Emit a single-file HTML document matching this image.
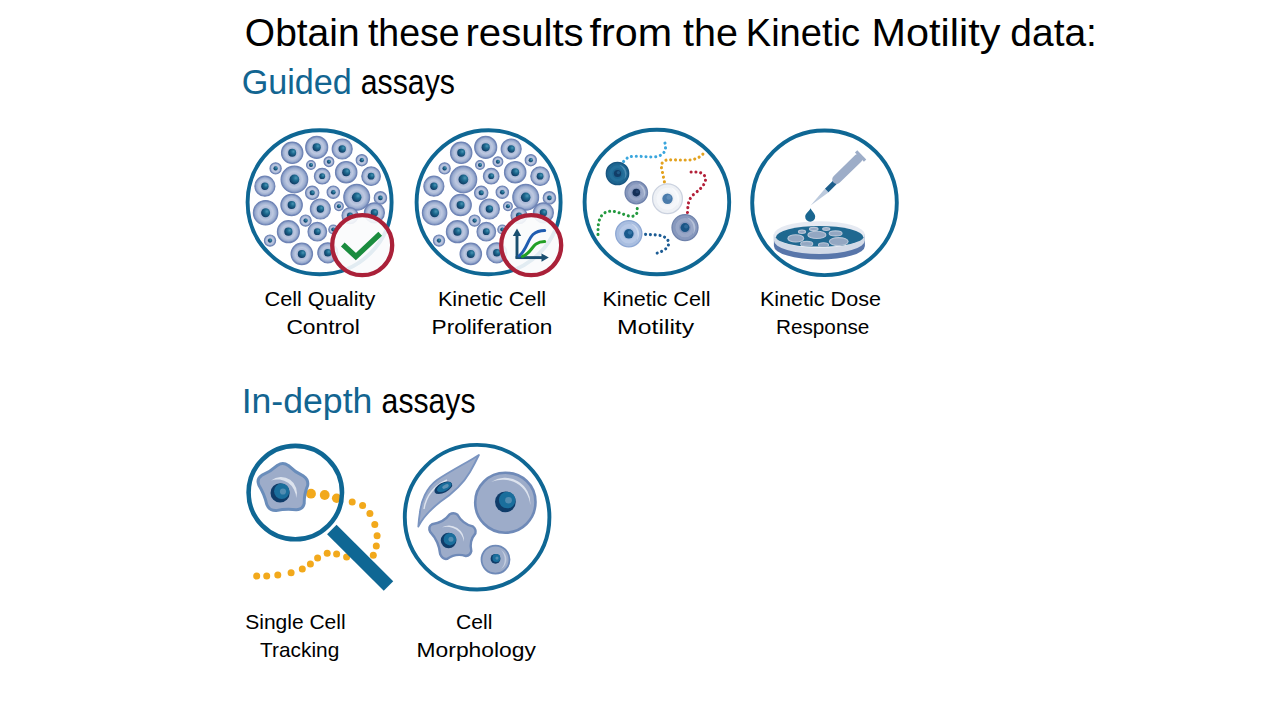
<!DOCTYPE html>
<html><head><meta charset="utf-8"><style>
html,body{margin:0;padding:0;background:#fff;}
body{width:1280px;height:720px;overflow:hidden;}
svg{display:block;font-family:"Liberation Sans", sans-serif;}
</style></head><body>
<svg width="1280" height="720" viewBox="0 0 1280 720">
<defs>
<radialGradient id="cg" cx="0.5" cy="0.5" r="0.5">
 <stop offset="0" stop-color="#9cadcf"/>
 <stop offset="0.35" stop-color="#a8b6d5"/>
 <stop offset="0.6" stop-color="#bdc8e0"/>
 <stop offset="0.8" stop-color="#a2b2d3"/>
 <stop offset="0.91" stop-color="#899dc6"/>
 <stop offset="1" stop-color="#6f85b6"/>
</radialGradient>
<radialGradient id="ng" cx="0.65" cy="0.35" r="0.7">
 <stop offset="0" stop-color="#4b95b5"/>
 <stop offset="0.4" stop-color="#1e6a8f"/>
 <stop offset="1" stop-color="#0f3a62"/>
</radialGradient>
<clipPath id="c1"><circle cx="319.6" cy="201.7" r="71"/></clipPath>
</defs><g transform="translate(0,0.6)"><g clip-path="url(#c1)"><circle cx="292.2" cy="152.2" r="10.7" fill="url(#cg)" stroke="#6f84b5" stroke-width="1.2"/><circle cx="292.2" cy="152.2" r="4.0" fill="url(#ng)"/><circle cx="316.7" cy="146.7" r="11.0" fill="url(#cg)" stroke="#6f84b5" stroke-width="1.2"/><circle cx="316.7" cy="146.7" r="4.1" fill="url(#ng)"/><circle cx="342.2" cy="148.4" r="10.0" fill="url(#cg)" stroke="#6f84b5" stroke-width="1.2"/><circle cx="342.2" cy="148.4" r="3.7" fill="url(#ng)"/><circle cx="275.6" cy="167.8" r="5.6" fill="url(#cg)" stroke="#6f84b5" stroke-width="1.2"/><circle cx="275.6" cy="167.8" r="2.1" fill="url(#ng)"/><circle cx="311.0" cy="164.4" r="4.4" fill="url(#cg)" stroke="#6f84b5" stroke-width="1.2"/><circle cx="311.0" cy="164.4" r="2.0" fill="url(#ng)"/><circle cx="328.9" cy="161.1" r="4.9" fill="url(#cg)" stroke="#6f84b5" stroke-width="1.2"/><circle cx="328.9" cy="161.1" r="2.0" fill="url(#ng)"/><circle cx="361.8" cy="159.6" r="5.6" fill="url(#cg)" stroke="#6f84b5" stroke-width="1.2"/><circle cx="361.8" cy="159.6" r="2.1" fill="url(#ng)"/><circle cx="294.4" cy="178.9" r="13.3" fill="url(#cg)" stroke="#6f84b5" stroke-width="1.2"/><circle cx="294.4" cy="178.9" r="4.9" fill="url(#ng)"/><circle cx="322.2" cy="175.6" r="7.8" fill="url(#cg)" stroke="#6f84b5" stroke-width="1.2"/><circle cx="322.2" cy="175.6" r="2.9" fill="url(#ng)"/><circle cx="346.2" cy="171.6" r="10.7" fill="url(#cg)" stroke="#6f84b5" stroke-width="1.2"/><circle cx="346.2" cy="171.6" r="4.0" fill="url(#ng)"/><circle cx="371.1" cy="175.6" r="9.3" fill="url(#cg)" stroke="#6f84b5" stroke-width="1.2"/><circle cx="371.1" cy="175.6" r="3.4" fill="url(#ng)"/><circle cx="264.9" cy="185.6" r="10.0" fill="url(#cg)" stroke="#6f84b5" stroke-width="1.2"/><circle cx="264.9" cy="185.6" r="3.7" fill="url(#ng)"/><circle cx="312.2" cy="192.2" r="6.7" fill="url(#cg)" stroke="#6f84b5" stroke-width="1.2"/><circle cx="312.2" cy="192.2" r="2.5" fill="url(#ng)"/><circle cx="333.3" cy="191.6" r="6.2" fill="url(#cg)" stroke="#6f84b5" stroke-width="1.2"/><circle cx="333.3" cy="191.6" r="2.3" fill="url(#ng)"/><circle cx="356.7" cy="196.7" r="12.9" fill="url(#cg)" stroke="#6f84b5" stroke-width="1.2"/><circle cx="356.7" cy="196.7" r="4.8" fill="url(#ng)"/><circle cx="380.4" cy="197.3" r="6.2" fill="url(#cg)" stroke="#6f84b5" stroke-width="1.2"/><circle cx="380.4" cy="197.3" r="2.3" fill="url(#ng)"/><circle cx="265.6" cy="212.2" r="12.2" fill="url(#cg)" stroke="#6f84b5" stroke-width="1.2"/><circle cx="265.6" cy="212.2" r="4.5" fill="url(#ng)"/><circle cx="291.6" cy="204.4" r="10.7" fill="url(#cg)" stroke="#6f84b5" stroke-width="1.2"/><circle cx="291.6" cy="204.4" r="4.0" fill="url(#ng)"/><circle cx="320.4" cy="208.4" r="10.0" fill="url(#cg)" stroke="#6f84b5" stroke-width="1.2"/><circle cx="320.4" cy="208.4" r="3.7" fill="url(#ng)"/><circle cx="338.9" cy="205.6" r="4.4" fill="url(#cg)" stroke="#6f84b5" stroke-width="1.2"/><circle cx="338.9" cy="205.6" r="2.0" fill="url(#ng)"/><circle cx="374.4" cy="212.2" r="10.0" fill="url(#cg)" stroke="#6f84b5" stroke-width="1.2"/><circle cx="374.4" cy="212.2" r="3.7" fill="url(#ng)"/><circle cx="305.6" cy="220.0" r="5.6" fill="url(#cg)" stroke="#6f84b5" stroke-width="1.2"/><circle cx="305.6" cy="220.0" r="2.1" fill="url(#ng)"/><circle cx="288.4" cy="231.1" r="11.0" fill="url(#cg)" stroke="#6f84b5" stroke-width="1.2"/><circle cx="288.4" cy="231.1" r="4.1" fill="url(#ng)"/><circle cx="317.3" cy="231.1" r="9.3" fill="url(#cg)" stroke="#6f84b5" stroke-width="1.2"/><circle cx="317.3" cy="231.1" r="3.4" fill="url(#ng)"/><circle cx="270.0" cy="240.0" r="5.6" fill="url(#cg)" stroke="#6f84b5" stroke-width="1.2"/><circle cx="270.0" cy="240.0" r="2.1" fill="url(#ng)"/><circle cx="301.8" cy="253.3" r="10.7" fill="url(#cg)" stroke="#6f84b5" stroke-width="1.2"/><circle cx="301.8" cy="253.3" r="4.0" fill="url(#ng)"/><circle cx="327.8" cy="252.2" r="10.0" fill="url(#cg)" stroke="#6f84b5" stroke-width="1.2"/><circle cx="327.8" cy="252.2" r="3.7" fill="url(#ng)"/><circle cx="333.3" cy="228.9" r="4.5" fill="url(#cg)" stroke="#6f84b5" stroke-width="1.2"/><circle cx="333.3" cy="228.9" r="2.0" fill="url(#ng)"/><circle cx="350.0" cy="215.0" r="8.0" fill="url(#cg)" stroke="#6f84b5" stroke-width="1.2"/><circle cx="350.0" cy="215.0" r="3.0" fill="url(#ng)"/></g><circle cx="319.6" cy="201.7" r="72" fill="none" stroke="#0f6794" stroke-width="3.9"/><circle cx="362.2" cy="244.6" r="30" fill="#fafbfc" fill-opacity="0.9" stroke="#aa2139" stroke-width="4.3"/></g><g transform="translate(169,0.6)"><g clip-path="url(#c1)"><circle cx="292.2" cy="152.2" r="10.7" fill="url(#cg)" stroke="#6f84b5" stroke-width="1.2"/><circle cx="292.2" cy="152.2" r="4.0" fill="url(#ng)"/><circle cx="316.7" cy="146.7" r="11.0" fill="url(#cg)" stroke="#6f84b5" stroke-width="1.2"/><circle cx="316.7" cy="146.7" r="4.1" fill="url(#ng)"/><circle cx="342.2" cy="148.4" r="10.0" fill="url(#cg)" stroke="#6f84b5" stroke-width="1.2"/><circle cx="342.2" cy="148.4" r="3.7" fill="url(#ng)"/><circle cx="275.6" cy="167.8" r="5.6" fill="url(#cg)" stroke="#6f84b5" stroke-width="1.2"/><circle cx="275.6" cy="167.8" r="2.1" fill="url(#ng)"/><circle cx="311.0" cy="164.4" r="4.4" fill="url(#cg)" stroke="#6f84b5" stroke-width="1.2"/><circle cx="311.0" cy="164.4" r="2.0" fill="url(#ng)"/><circle cx="328.9" cy="161.1" r="4.9" fill="url(#cg)" stroke="#6f84b5" stroke-width="1.2"/><circle cx="328.9" cy="161.1" r="2.0" fill="url(#ng)"/><circle cx="361.8" cy="159.6" r="5.6" fill="url(#cg)" stroke="#6f84b5" stroke-width="1.2"/><circle cx="361.8" cy="159.6" r="2.1" fill="url(#ng)"/><circle cx="294.4" cy="178.9" r="13.3" fill="url(#cg)" stroke="#6f84b5" stroke-width="1.2"/><circle cx="294.4" cy="178.9" r="4.9" fill="url(#ng)"/><circle cx="322.2" cy="175.6" r="7.8" fill="url(#cg)" stroke="#6f84b5" stroke-width="1.2"/><circle cx="322.2" cy="175.6" r="2.9" fill="url(#ng)"/><circle cx="346.2" cy="171.6" r="10.7" fill="url(#cg)" stroke="#6f84b5" stroke-width="1.2"/><circle cx="346.2" cy="171.6" r="4.0" fill="url(#ng)"/><circle cx="371.1" cy="175.6" r="9.3" fill="url(#cg)" stroke="#6f84b5" stroke-width="1.2"/><circle cx="371.1" cy="175.6" r="3.4" fill="url(#ng)"/><circle cx="264.9" cy="185.6" r="10.0" fill="url(#cg)" stroke="#6f84b5" stroke-width="1.2"/><circle cx="264.9" cy="185.6" r="3.7" fill="url(#ng)"/><circle cx="312.2" cy="192.2" r="6.7" fill="url(#cg)" stroke="#6f84b5" stroke-width="1.2"/><circle cx="312.2" cy="192.2" r="2.5" fill="url(#ng)"/><circle cx="333.3" cy="191.6" r="6.2" fill="url(#cg)" stroke="#6f84b5" stroke-width="1.2"/><circle cx="333.3" cy="191.6" r="2.3" fill="url(#ng)"/><circle cx="356.7" cy="196.7" r="12.9" fill="url(#cg)" stroke="#6f84b5" stroke-width="1.2"/><circle cx="356.7" cy="196.7" r="4.8" fill="url(#ng)"/><circle cx="380.4" cy="197.3" r="6.2" fill="url(#cg)" stroke="#6f84b5" stroke-width="1.2"/><circle cx="380.4" cy="197.3" r="2.3" fill="url(#ng)"/><circle cx="265.6" cy="212.2" r="12.2" fill="url(#cg)" stroke="#6f84b5" stroke-width="1.2"/><circle cx="265.6" cy="212.2" r="4.5" fill="url(#ng)"/><circle cx="291.6" cy="204.4" r="10.7" fill="url(#cg)" stroke="#6f84b5" stroke-width="1.2"/><circle cx="291.6" cy="204.4" r="4.0" fill="url(#ng)"/><circle cx="320.4" cy="208.4" r="10.0" fill="url(#cg)" stroke="#6f84b5" stroke-width="1.2"/><circle cx="320.4" cy="208.4" r="3.7" fill="url(#ng)"/><circle cx="338.9" cy="205.6" r="4.4" fill="url(#cg)" stroke="#6f84b5" stroke-width="1.2"/><circle cx="338.9" cy="205.6" r="2.0" fill="url(#ng)"/><circle cx="374.4" cy="212.2" r="10.0" fill="url(#cg)" stroke="#6f84b5" stroke-width="1.2"/><circle cx="374.4" cy="212.2" r="3.7" fill="url(#ng)"/><circle cx="305.6" cy="220.0" r="5.6" fill="url(#cg)" stroke="#6f84b5" stroke-width="1.2"/><circle cx="305.6" cy="220.0" r="2.1" fill="url(#ng)"/><circle cx="288.4" cy="231.1" r="11.0" fill="url(#cg)" stroke="#6f84b5" stroke-width="1.2"/><circle cx="288.4" cy="231.1" r="4.1" fill="url(#ng)"/><circle cx="317.3" cy="231.1" r="9.3" fill="url(#cg)" stroke="#6f84b5" stroke-width="1.2"/><circle cx="317.3" cy="231.1" r="3.4" fill="url(#ng)"/><circle cx="270.0" cy="240.0" r="5.6" fill="url(#cg)" stroke="#6f84b5" stroke-width="1.2"/><circle cx="270.0" cy="240.0" r="2.1" fill="url(#ng)"/><circle cx="301.8" cy="253.3" r="10.7" fill="url(#cg)" stroke="#6f84b5" stroke-width="1.2"/><circle cx="301.8" cy="253.3" r="4.0" fill="url(#ng)"/><circle cx="327.8" cy="252.2" r="10.0" fill="url(#cg)" stroke="#6f84b5" stroke-width="1.2"/><circle cx="327.8" cy="252.2" r="3.7" fill="url(#ng)"/><circle cx="333.3" cy="228.9" r="4.5" fill="url(#cg)" stroke="#6f84b5" stroke-width="1.2"/><circle cx="333.3" cy="228.9" r="2.0" fill="url(#ng)"/><circle cx="350.0" cy="215.0" r="8.0" fill="url(#cg)" stroke="#6f84b5" stroke-width="1.2"/><circle cx="350.0" cy="215.0" r="3.0" fill="url(#ng)"/></g><circle cx="319.6" cy="201.7" r="72" fill="none" stroke="#0f6794" stroke-width="3.9"/><circle cx="362.2" cy="244.6" r="30" fill="#fafbfc" fill-opacity="0.9" stroke="#aa2139" stroke-width="4.3"/></g><path d="M342.8,244.5 L355.8,256.6 L380.2,233.8" fill="none" stroke="#1a8c3e" stroke-width="5.4" stroke-linejoin="miter"/><g>
<path d="M517,258.5 L517,234" stroke="#1a4f70" stroke-width="2.9" fill="none"/>
<path d="M512.8,236 L517,228.5 L521.2,236 Z" fill="#1a4f70"/>
<path d="M515.6,257.6 L542,257.6" stroke="#1a4f70" stroke-width="2.9" fill="none"/>
<path d="M541.5,253.4 L548.8,257.6 L541.5,261.8 Z" fill="#1a4f70"/>
<path d="M519,256 C526,251 528,239 533,234.5 C537,231 540,230.5 544.7,230.5" stroke="#1f5cb0" stroke-width="3" fill="none" stroke-linecap="round"/>
<path d="M522.5,256.5 C530,254 532,246.5 536,244 C539,242 541,241.6 544.7,241.6" stroke="#22a025" stroke-width="3" fill="none" stroke-linecap="round"/>
</g><circle cx="656.9" cy="202" r="72.3" fill="none" stroke="#0f6794" stroke-width="3.9"/><path d="M623.6,161.5 C627,157 631,156 637,156.2 L652,157 C660,157 665,154 665.5,148 C666,145 665,143 664,141" fill="none" stroke="#3aa6dd" stroke-width="3.1" stroke-linecap="round" stroke-dasharray="0.01 4.8"/><path d="M664.4,181.9 L662,170 C660.5,165 661.5,162 666,160.2 C670,159.5 675,160 680,160 L689.5,160 C696,159.5 701,157 704.7,152" fill="none" stroke="#e3a21f" stroke-width="3.1" stroke-linecap="round" stroke-dasharray="0.01 4.8"/><path d="M687.5,212.5 C688,205 688,200 693,195 C699,190 704.5,186 705.5,180 C706,175 702,172.5 697,172 L690,172" fill="none" stroke="#b3213a" stroke-width="3.1" stroke-linecap="round" stroke-dasharray="0.01 4.8"/><path d="M598,234.4 C598,226 598,220 602.5,214.4 C606,211 611,210.6 617,212 L627,215.5 C632,217 635,216.5 637,213 L637.5,204.5" fill="none" stroke="#23993f" stroke-width="3.1" stroke-linecap="round" stroke-dasharray="0.01 4.8"/><path d="M645.6,234.4 L658,235 C664,236 668,238 668.8,243 C668.5,248 664,251 656,253.5 L653.6,254.4" fill="none" stroke="#1c5c94" stroke-width="3.1" stroke-linecap="round" stroke-dasharray="0.01 4.8"/><circle cx="617.5" cy="173.5" r="11.2" fill="#1d6590" stroke="#185680" stroke-width="1.3"/><circle cx="617.5" cy="173.5" r="6.72" fill="none" stroke="#2a78a3" stroke-width="3.14" opacity="0.55"/><path d="M619.1,164.7 A8.959999999999999,8.959999999999999 0 0 1 624.4,179.3 A11.76,11.76 0 0 0 619.1,164.7 Z" fill="#6fa6c8" opacity="0.6"/><circle cx="617.5" cy="173.5" r="3.6" fill="#123e68"/><circle cx="618.40" cy="172.60" r="1.62" fill="#2a6a95" opacity="0.7"/><circle cx="636.3" cy="192.6" r="11.2" fill="#8798bd" stroke="#6f82ab" stroke-width="1.3"/><circle cx="636.3" cy="192.6" r="6.72" fill="none" stroke="#a7b4cf" stroke-width="3.14" opacity="0.55"/><path d="M637.9,183.8 A8.959999999999999,8.959999999999999 0 0 1 643.2,198.4 A11.76,11.76 0 0 0 637.9,183.8 Z" fill="#d0d8e8" opacity="0.6"/><circle cx="636.3" cy="192.6" r="3.8" fill="#142f56"/><circle cx="637.25" cy="191.65" r="1.71" fill="#2b4a78" opacity="0.7"/><circle cx="667.5" cy="198.7" r="14.9" fill="#edf0f5" stroke="#cbd2df" stroke-width="1.3"/><circle cx="667.5" cy="198.7" r="8.94" fill="none" stroke="#fafbfd" stroke-width="4.17" opacity="0.55"/><path d="M669.6,187.0 A11.920000000000002,11.920000000000002 0 0 1 676.6,206.4 A15.645000000000001,15.645000000000001 0 0 0 669.6,187.0 Z" fill="#ffffff" opacity="0.6"/><circle cx="667.5" cy="198.7" r="5.2" fill="#4a7bab"/><circle cx="668.80" cy="197.40" r="2.34" fill="#6b97c0" opacity="0.7"/><circle cx="685.0" cy="227.6" r="13.0" fill="#8798bd" stroke="#6f82ab" stroke-width="1.3"/><circle cx="685.0" cy="227.6" r="7.80" fill="none" stroke="#a7b4cf" stroke-width="3.64" opacity="0.55"/><path d="M686.8,217.4 A10.4,10.4 0 0 1 693.0,234.3 A13.65,13.65 0 0 0 686.8,217.4 Z" fill="#d0d8e8" opacity="0.6"/><circle cx="685.0" cy="227.6" r="4.5" fill="#1a5585"/><circle cx="686.12" cy="226.47" r="2.02" fill="#3b75a3" opacity="0.7"/><circle cx="628.8" cy="233.8" r="13.1" fill="#a9bee0" stroke="#8da7d3" stroke-width="1.3"/><circle cx="628.8" cy="233.8" r="7.86" fill="none" stroke="#c2d2ec" stroke-width="3.67" opacity="0.55"/><path d="M630.6,223.5 A10.48,10.48 0 0 1 636.8,240.5 A13.755,13.755 0 0 0 630.6,223.5 Z" fill="#e0e8f5" opacity="0.6"/><circle cx="628.8" cy="233.8" r="4.8" fill="#1a5a8c"/><circle cx="630.00" cy="232.60" r="2.16" fill="#3f7fb0" opacity="0.7"/><circle cx="824.5" cy="202.8" r="72.3" fill="none" stroke="#0f6794" stroke-width="3.9"/><g>
<path d="M773.9,234.6 L773.9,246 A45.5,13.5 0 0 0 864.9,246 L864.9,234.6 Z" fill="#5876aa"/>
<path d="M773.9,234.6 L773.9,240.5 A45.5,13.5 0 0 0 864.9,240.5 L864.9,234.6 Z" fill="#d2dae7"/>
<ellipse cx="819.4" cy="234.6" rx="45.5" ry="13.4" fill="#e6eaf2"/>
<clipPath id="liq"><path d="M775.9,237.3 A43.75,11.4 0 0 1 863.4,237.3 A43.75,9.3 0 0 1 775.9,237.3 Z"/></clipPath>
<path d="M775.9,237.3 A43.75,11.4 0 0 1 863.4,237.3 A43.75,9.3 0 0 1 775.9,237.3 Z" fill="#1f6890"/>
<g clip-path="url(#liq)" fill="#93a7c2" stroke="#b9c6d8" stroke-width="1.1">
<ellipse cx="795.8" cy="238.4" rx="7.91" ry="3.59"/>
<ellipse cx="816.9" cy="234.9" rx="9.02" ry="3.59"/>
<ellipse cx="835.6" cy="233.4" rx="6.44" ry="2.48"/>
<ellipse cx="838.75" cy="241.6" rx="9.38" ry="3.96"/>
<ellipse cx="806.7" cy="243.9" rx="6.07" ry="2.48"/>
<ellipse cx="823.5" cy="245" rx="5.06" ry="2.30"/>
<ellipse cx="802" cy="231.8" rx="3.59" ry="1.66"/>
<ellipse cx="813.75" cy="229" rx="4.32" ry="1.66"/>
<ellipse cx="826.25" cy="229" rx="3.59" ry="1.38"/>
</g>
<path d="M810.6,205.6 L824.7,188.9 L828.7,192.2 Z" fill="#bccadd"/>
<path d="M826.7,190.6 L836.7,180.4" stroke="#1e5f8c" stroke-width="5"/>
<path d="M836.7,179.4 L858.1,158.5" stroke="#9dadc8" stroke-width="9" stroke-linecap="round"/>
<path d="M857,159.6 L860.5,156.1" stroke="#9dadc8" stroke-width="5.5"/>
<path d="M856.1,151.4 L865.1,160.7" stroke="#9dadc8" stroke-width="3.2"/>
<path d="M810.6,208.3 C809,211.5 805.2,213.5 805.2,216.8 A5,5 0 0 0 815.2,216.8 C815.2,213.5 812,211.5 810.6,208.3 Z" fill="#1a6690"/>
</g><g fill="#f2a91c"><circle cx="311" cy="493.7" r="4.9"/><circle cx="324.7" cy="495" r="4.9"/><circle cx="336.6" cy="498.3" r="4.7"/><circle cx="352.2" cy="502.1" r="3.5"/><circle cx="362.6" cy="505.6" r="3.5"/><circle cx="369.9" cy="513.6" r="3.5"/><circle cx="374.8" cy="524.6" r="3.5"/><circle cx="377.1" cy="535.7" r="3.5"/><circle cx="376.3" cy="546" r="3.5"/><circle cx="373.3" cy="555.3" r="3.5"/><circle cx="346.6" cy="557.1" r="3.5"/><circle cx="336.6" cy="554" r="3.5"/><circle cx="327.2" cy="553.3" r="3.5"/><circle cx="317.6" cy="557.9" r="3.5"/><circle cx="310.4" cy="564" r="3.5"/><circle cx="302.3" cy="568.9" r="3.5"/><circle cx="291.1" cy="572.8" r="3.5"/><circle cx="277.8" cy="575" r="3.5"/><circle cx="266.7" cy="576.1" r="3.5"/><circle cx="256.7" cy="576.1" r="3.5"/></g><path d="M331.8,529.5 L388.5,586.1" stroke="#0f6794" stroke-width="13.4"/><circle cx="295.3" cy="492.6" r="46.7" fill="none" stroke="#0f6794" stroke-width="4.6"/><path d="M261.6,475.4 Q270.7,471.6 277.7,465.2 Q283.0,461.8 288.2,465.4 Q294.9,472.1 303.6,476.2 Q308.8,479.8 307.6,485.7 Q304.1,494.0 304.2,503.5 Q303.0,509.4 296.3,509.7 Q285.9,508.3 276.1,510.6 Q269.4,510.9 266.8,504.5 Q264.5,494.2 258.9,485.2 Q256.3,478.8 261.6,475.4 Z" fill="#9dacc9" stroke="#6a8dbb" stroke-width="3" stroke-linejoin="round"/><path d="M271.1,480.4 A16,16 0 0 1 296.2,497.9 A19,19 0 0 0 271.1,480.4 Z" fill="#dde3ee" opacity="1"/><circle cx="280.1" cy="492.9" r="9.6" fill="#0f3c69"/><circle cx="281.73" cy="491.27" r="7.68" fill="#1a6e9c"/><circle cx="282.98" cy="491.46" r="3.07" fill="#5d92b5" opacity="0.85"/><circle cx="477.1" cy="517.2" r="72.3" fill="none" stroke="#0f6794" stroke-width="3.9"/><path d="M505.3,472.8 C522,472.8 535.5,485 535.5,502 C535.5,519 522,532.7 505.3,532.7 C488.5,532.7 475.2,519 475.2,502.5 C475.2,486 488.5,472.8 505.3,472.8 Z" fill="#9dacc9" stroke="#6f8ab8" stroke-width="2.6"/><path d="M491.0,482.3 A25,25 0 0 1 530.2,505.0 A27.5,27.5 0 0 0 491.0,482.3 Z" fill="#dde3ee" opacity="1"/><circle cx="505.4" cy="501.8" r="10.4" fill="#0f3c69"/><circle cx="507.17" cy="500.03" r="8.32" fill="#1a6e9c"/><circle cx="508.52" cy="500.24" r="3.33" fill="#5d92b5" opacity="0.85"/><path d="M478.9,455 C470,461 452,470 437,480 C426,488 421,502 420,512 C419,518 418.5,523 418.3,526.7 C422,519 430,510 440,502 C452,494 463,484 470,472 C474,465 477,459 478.9,455 Z" fill="#9dacc9" stroke="#7a94c0" stroke-width="1.8" stroke-linejoin="round"/><path d="M424,509 C426,496 434,486 447,480" fill="none" stroke="#dde3ee" stroke-width="1.4"/><ellipse cx="443.3" cy="487.8" rx="9.7" ry="5" transform="rotate(-27 443.3 487.8)" fill="#0f3c69"/><ellipse cx="444.3" cy="487" rx="8" ry="3.8" transform="rotate(-27 444.3 487)" fill="#1a6e9c"/><ellipse cx="445.5" cy="486.5" rx="3.5" ry="1.8" transform="rotate(-27 445.5 486.5)" fill="#5d92b5"/><path d="M457.5,514.7 Q462.5,523.9 472.8,526.4 Q476.4,529.2 475.4,533.4 Q468.9,540.9 471.3,551.1 Q470.3,555.3 465.9,556.0 Q455.7,552.7 447.0,558.9 Q442.6,559.6 440.2,554.3 Q439.1,541.5 430.2,531.9 Q427.8,526.6 432.0,524.2 Q443.5,522.9 449.7,514.3 Q453.9,511.9 457.5,514.7 Z" fill="#9dacc9" stroke="#6f8ab8" stroke-width="2.4" stroke-linejoin="round"/><path d="M442.0,527.3 A15,15 0 0 1 463.9,541.8 A17.5,17.5 0 0 0 442.0,527.3 Z" fill="#dde3ee" opacity="1"/><circle cx="448.6" cy="540.5" r="7.8" fill="#0f3c69"/><circle cx="449.93" cy="539.17" r="6.24" fill="#1a6e9c"/><circle cx="450.94" cy="539.33" r="2.50" fill="#5d92b5" opacity="0.85"/><circle cx="495.5" cy="559.6" r="14" fill="#9dacc9" stroke="#6f8ab8" stroke-width="1.8"/><path d="M501.0,550.1 A11,11 0 0 1 501.0,569.1 A14,14 0 0 0 501.0,550.1 Z" fill="#dde3ee" opacity="0.6"/><circle cx="495.5" cy="558.8" r="4.9" fill="#0f3c69"/><circle cx="496.33" cy="557.97" r="3.92" fill="#1a6e9c"/><circle cx="496.97" cy="558.06" r="1.57" fill="#5d92b5" opacity="0.85"/>
<text x="244.88" y="46" font-size="38.6" fill="#000" textLength="114.71" lengthAdjust="spacingAndGlyphs">Obtain</text><text x="367.93" y="46" font-size="38.6" fill="#000" textLength="91.71" lengthAdjust="spacingAndGlyphs">these</text><text x="465.48" y="46" font-size="38.6" fill="#000" textLength="118.21" lengthAdjust="spacingAndGlyphs">results</text><text x="589.53" y="46" font-size="38.6" fill="#000" textLength="82.49" lengthAdjust="spacingAndGlyphs">from</text><text x="683.08" y="46" font-size="38.6" fill="#000" textLength="54.90" lengthAdjust="spacingAndGlyphs">the</text><text x="745.73" y="46" font-size="38.6" fill="#000" textLength="114.45" lengthAdjust="spacingAndGlyphs">Kinetic</text><text x="871.58" y="46" font-size="38.6" fill="#000" textLength="128.75" lengthAdjust="spacingAndGlyphs">Motility</text><text x="1010.38" y="46" font-size="38.6" fill="#000" textLength="86.56" lengthAdjust="spacingAndGlyphs">data:</text><text x="241.64" y="94" font-size="34.9" fill="#126591" textLength="110.22" lengthAdjust="spacingAndGlyphs">Guided</text><text x="360.73" y="94" font-size="34.9" fill="#000" textLength="94.18" lengthAdjust="spacingAndGlyphs">assays</text><text x="241.68" y="413" font-size="34.2" fill="#126591" textLength="130.68" lengthAdjust="spacingAndGlyphs">In-depth</text><text x="381.62" y="413" font-size="34.2" fill="#000" textLength="93.92" lengthAdjust="spacingAndGlyphs">assays</text><text x="264.47" y="305.5" font-size="21" fill="#000" textLength="110.92" lengthAdjust="spacingAndGlyphs">Cell Quality</text><text x="286.42" y="334" font-size="21" fill="#000" textLength="73.43" lengthAdjust="spacingAndGlyphs">Control</text><text x="437.94" y="305.5" font-size="21" fill="#000" textLength="108.14" lengthAdjust="spacingAndGlyphs">Kinetic Cell</text><text x="431.59" y="334" font-size="21" fill="#000" textLength="120.80" lengthAdjust="spacingAndGlyphs">Proliferation</text><text x="602.44" y="305.5" font-size="21" fill="#000" textLength="108.14" lengthAdjust="spacingAndGlyphs">Kinetic Cell</text><text x="617.14" y="334" font-size="21" fill="#000" textLength="77.01" lengthAdjust="spacingAndGlyphs">Motility</text><text x="759.95" y="305.5" font-size="21" fill="#000" textLength="120.97" lengthAdjust="spacingAndGlyphs">Kinetic Dose</text><text x="776.03" y="334" font-size="21" fill="#000" textLength="93.28" lengthAdjust="spacingAndGlyphs">Response</text><text x="245.25" y="628.7" font-size="21" fill="#000" textLength="100.39" lengthAdjust="spacingAndGlyphs">Single Cell</text><text x="260.00" y="656.8" font-size="21" fill="#000" textLength="79.24" lengthAdjust="spacingAndGlyphs">Tracking</text><text x="455.99" y="628.7" font-size="21" fill="#000" textLength="36.45" lengthAdjust="spacingAndGlyphs">Cell</text><text x="416.57" y="656.8" font-size="21" fill="#000" textLength="119.39" lengthAdjust="spacingAndGlyphs">Morphology</text>
</svg>
</body></html>
